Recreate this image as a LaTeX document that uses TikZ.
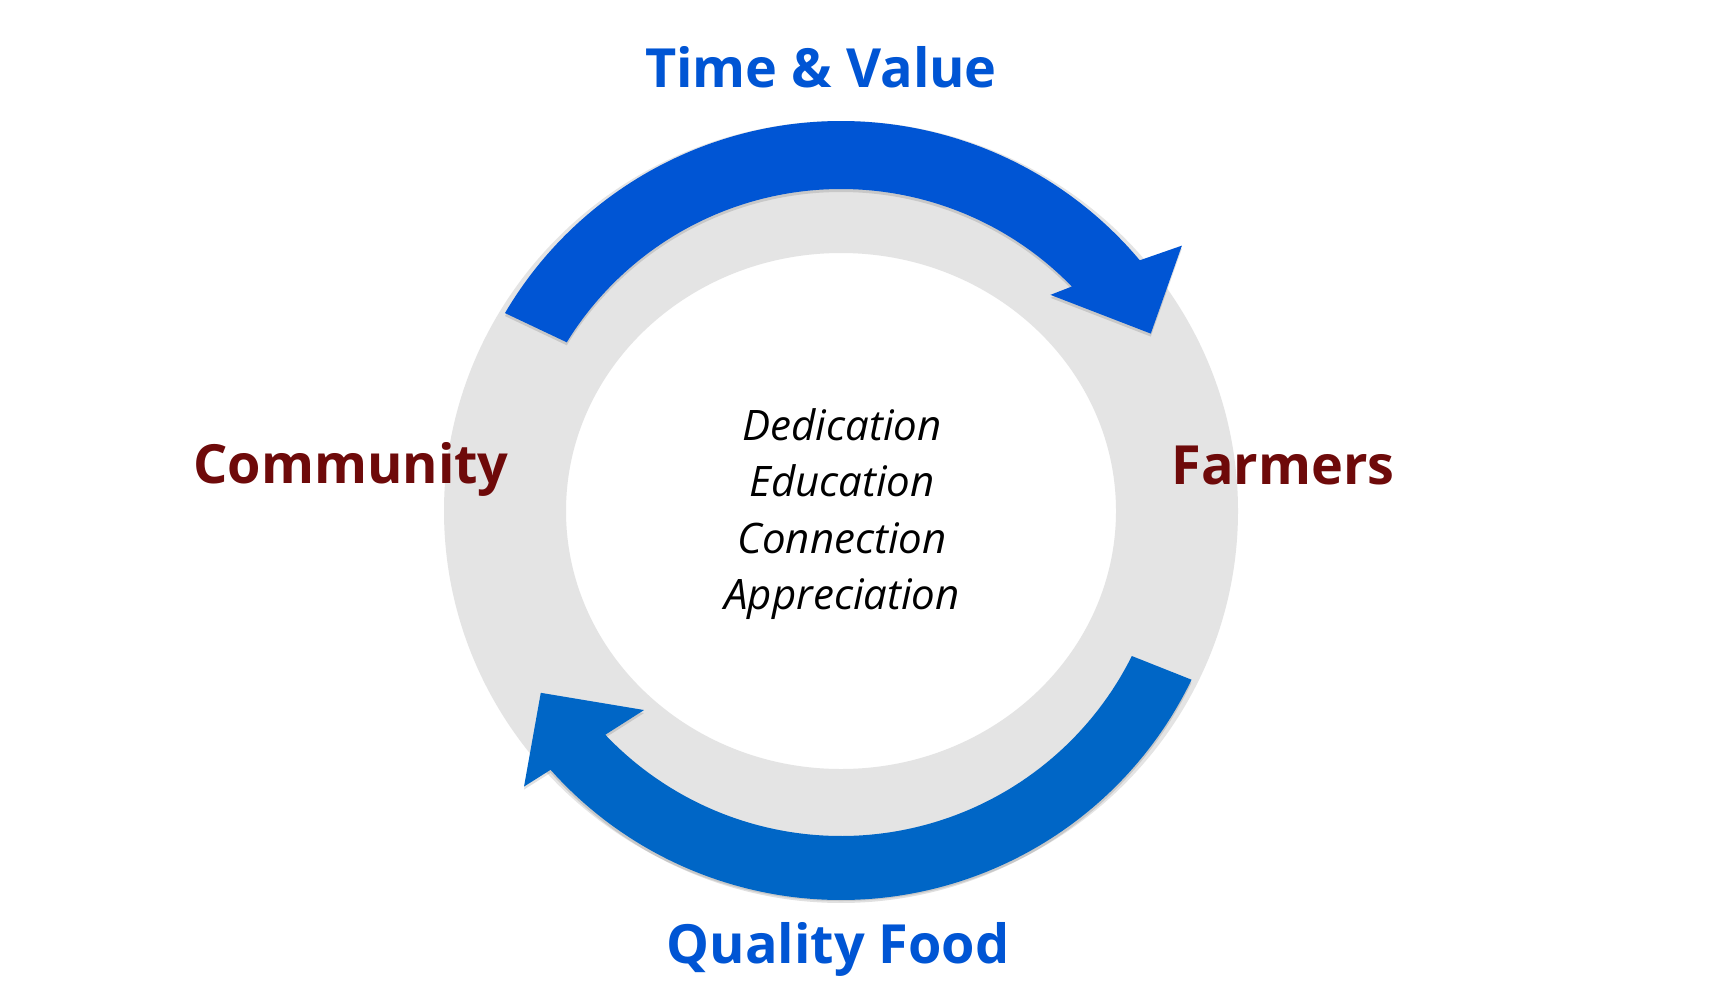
\documentclass[tikz,border=0pt]{standalone}
\usepackage{fontspec}
\setmainfont{Open Sans}
\usetikzlibrary{shadows}
\definecolor{topblue}{RGB}{0,85,212}
\definecolor{botblue}{RGB}{0,102,198}
\definecolor{labelblue}{RGB}{0,85,212}
\definecolor{labelred}{RGB}{110,10,10}
\definecolor{ringgray}{RGB}{228,228,228}
\tikzset{
  lbl/.style={font=\fontsize{54}{60}\selectfont\bfseries, anchor=base, inner sep=0pt},
  midtext/.style={font=\fontsize{42}{48}\selectfont\itshape, anchor=base, inner sep=0pt, text=black},
  arrowshadow/.style={drop shadow={shadow xshift=0pt, shadow yshift=-3pt, opacity=0.12, fill=black}},
  topstyle/.style={fill=topblue, arrowshadow},
  botstyle/.style={fill=botblue, arrowshadow}
}
\begin{document}
\begin{tikzpicture}[x=1pt,y=1pt]
\fill[white] (0,0) rectangle (1728,-996);
\useasboundingbox (0,0) rectangle (1728,-996);
\coordinate (C) at (841,-511);
% grey ring
\fill[ringgray, even odd rule] (C) ellipse[x radius=397, y radius=390] (C) ellipse[x radius=275, y radius=258];
\begin{scope}[shift={(C)}]
% top arrow
\path[topstyle] (149.5:390) arc[start angle=149.5, end angle=40, radius=390]
  -- (37.9:432) -- (29.8:357) -- (45.9:301) -- (44.2:322)
  arc[start angle=44.2, end angle=148.4, radius=322] -- cycle;
% bottom arrow
\path[botstyle] (-25.7:389) arc[start angle=-25.7, end angle=-138.3, radius=389]
  -- (-139:420) -- (-148.8:351) -- (-134.7:280) -- (-136.5:325)
  arc[start angle=-136.5, end angle=-26.5, radius=325] -- cycle;
\end{scope}
% labels
\node[lbl, text=labelblue] (tv) at (821,-87) {Time \& Value};
\node[lbl, text=labelblue] (qf) at (838,-963) {Quality Food};
\node[lbl, text=labelred] (cm) at (351,-483) {Community};
\node[lbl, text=labelred] (fm) at (1283,-484) {Farmers};
% centre words
\node[midtext] (w1) at (842,-440) {Dedication};
\node[midtext] (w2) at (842,-496.5) {Education};
\node[midtext] (w3) at (842,-553) {Connection};
\node[midtext] (w4) at (842,-609.5) {Appreciation};
\end{tikzpicture}
\end{document}
